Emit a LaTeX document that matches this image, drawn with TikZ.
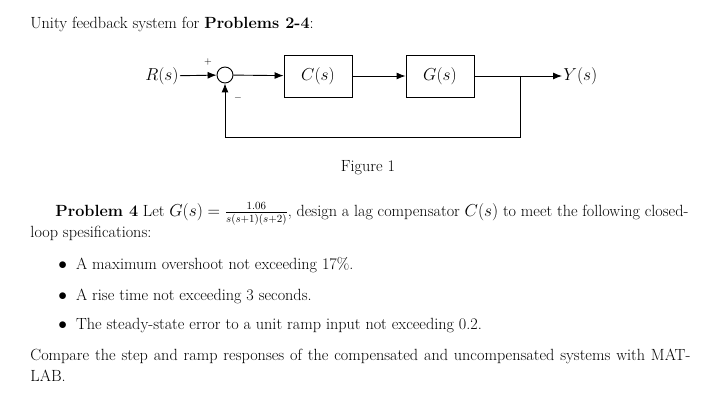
\documentclass[tikz,border=0pt]{standalone}
\usetikzlibrary{arrows.meta}
\begin{document}
\begin{tikzpicture}[x=1pt,y=-1pt,line width=0.9pt,
  blk/.style={draw,minimum width=68pt,minimum height=42pt,font=\fontsize{17}{20}\selectfont},
  sig/.style={-{Latex[length=9pt,width=7pt]}},
  txt/.style={anchor=west,inner sep=0pt,font=\fontsize{16.2}{19}\selectfont},
  lbl/.style={font=\fontsize{16}{19}\selectfont,inner sep=1pt}]
\useasboundingbox (0,0) rectangle (702,414);
\node[txt] (title) at (30,24) {Unity feedback system for \textbf{Problems 2-4}:};
% diagram
\node[lbl,anchor=east] (R) at (180,76) {$R(s)$};
\node[draw,circle,minimum size=16pt,inner sep=0pt] (sum) at (225,75) {};
\node[blk] (C) at (318,76) {$C(s)$};
\node[blk] (G) at (440,76) {$G(s)$};
\node[lbl,anchor=west] (Y) at (562,76) {$Y(s)$};
\coordinate (br) at (520,76);
\coordinate (bb) at (520,137);
\coordinate (lb) at (225,137);
\draw[sig] (R) -- (sum);
\draw[sig] (sum) -- (C);
\draw[sig] (C) -- (G);
\draw[sig] (G) -- (Y);
\draw[sig] (br) -- (bb) -- (lb) -- (sum);
\node[font=\normalsize] (plus) at (208,62) {$+$};
\node[font=\normalsize] (minus) at (238,98) {$-$};
\node[txt,anchor=center] (fig) at (368,168) {Figure 1};
% text
\node[txt] (l1) at (55,214) {\makebox[633pt][s]{\textbf{Problem 4} Let $G(s)=\frac{1.06}{s(s+1)(s+2)}$, design a lag compensator $C(s)$ to meet the following closed-}};
\node[txt] (l2) at (30,233) {loop spesifications:};
\node[txt] (b1) at (58,265) {$\bullet$\hspace{9pt}A maximum overshoot not exceeding 17\%.};
\node[txt] (b2) at (58,296) {$\bullet$\hspace{9pt}A rise time not exceeding 3 seconds.};
\node[txt] (b3) at (58,326) {$\bullet$\hspace{9pt}The steady-state error to a unit ramp input not exceeding 0.2.};
\node[txt] (l3) at (30,356) {\makebox[660pt][s]{Compare the step and ramp responses of the compensated and uncompensated systems with MAT-}};
\node[txt] (l4) at (30,376) {LAB.};
\end{tikzpicture}
\end{document}
